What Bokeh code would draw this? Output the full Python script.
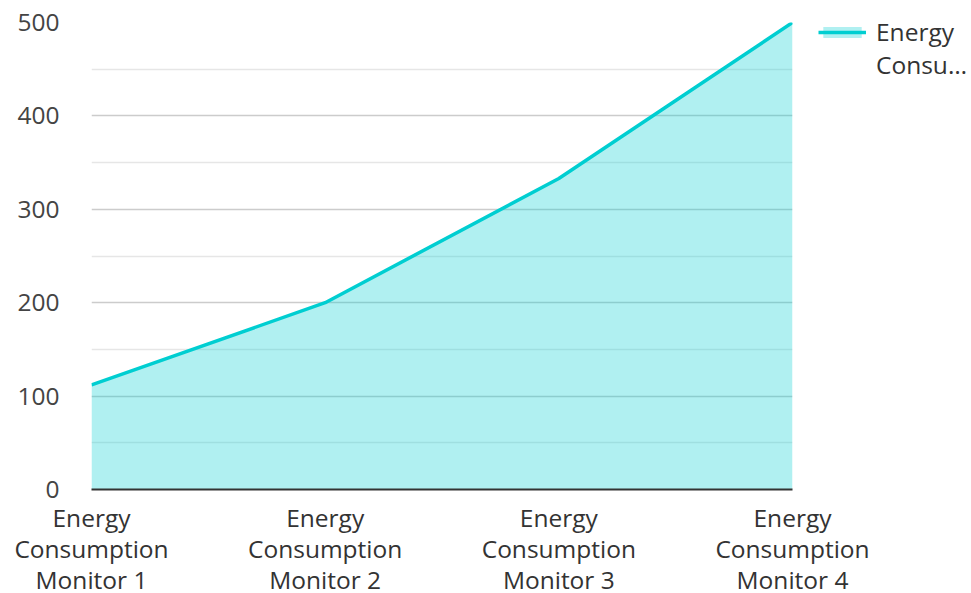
from bokeh.plotting import figure
from bokeh.models import Range1d, FixedTicker, Legend, LegendItem
from bokeh.embed import file_html
from bokeh.resources import INLINE

# Energy consumption per monitor
monitors = ["Energy\nConsumption\nMonitor 1", "Energy\nConsumption\nMonitor 2",
            "Energy\nConsumption\nMonitor 3", "Energy\nConsumption\nMonitor 4"]
consumption = [112, 200, 333, 500]
y_ticks = [0, 100, 200, 300, 400, 500]
y_minor = [50, 150, 250, 350, 450]
series_lines = ["Energy", "Consu\u2026"]

xs = list(range(len(monitors)))
FONT = "Open Sans"
TEAL = "#00CED1"
FS = "24.5px"

p = figure(frame_width=701, frame_height=467, output_backend="svg", toolbar_location=None,
           x_range=Range1d(0, len(monitors) - 1), y_range=Range1d(0, 500),
           min_border_left=91, min_border_right=179, min_border_top=22,
           min_border_bottom=104)
p.outline_line_color = None
p.background_fill_color = "white"
p.border_fill_color = "white"

area = p.varea(x=xs, y1=[0] * len(xs), y2=consumption, fill_color=TEAL, fill_alpha=0.31)
line = p.line(x=xs, y=consumption, line_color=TEAL, line_width=3.5)
# empty, invisible renderer that only carries the wrapped second line of the legend label
spacer = p.line(x=[], y=[], line_alpha=0)

# axes
p.xaxis.ticker = FixedTicker(ticks=xs)
p.xaxis.major_label_overrides = {i: m for i, m in enumerate(monitors)}
p.xaxis.axis_line_color = "#333333"
p.xaxis.axis_line_width = 2
p.xaxis.major_tick_line_color = None
p.xaxis.minor_tick_line_color = None
p.xaxis.major_label_standoff = 5
p.xaxis.major_label_text_font = FONT
p.xaxis.major_label_text_font_size = FS
p.xaxis.major_label_text_color = "#333333"
p.xaxis.major_label_text_line_height = 0.95

p.yaxis.ticker = FixedTicker(ticks=y_ticks, minor_ticks=y_minor)
p.yaxis.axis_line_color = None
p.yaxis.major_tick_line_color = None
p.yaxis.minor_tick_line_color = None
p.yaxis.major_label_standoff = 26
p.yaxis.major_label_text_font = FONT
p.yaxis.major_label_text_font_size = FS
p.yaxis.major_label_text_color = "#444444"

p.xgrid.grid_line_color = None
p.ygrid.grid_line_color = "#cccccc"
p.ygrid.grid_line_width = 1.5
p.ygrid.minor_grid_line_color = "#e6e6e6"
p.ygrid.minor_grid_line_width = 1.5

legend = Legend(items=[LegendItem(label=series_lines[0], renderers=[area, line]),
                       LegendItem(label=series_lines[1], renderers=[spacer])],
                location=(26, 408), border_line_color=None, background_fill_alpha=0,
                label_text_font=FONT, label_text_font_size=FS,
                label_text_color="#333333", label_height=33, spacing=0,
                glyph_width=48, glyph_height=14, padding=0, margin=0,
                label_standoff=10)
p.add_layout(legend, "right")

open("out.html", "w").write(file_html(p, INLINE))
